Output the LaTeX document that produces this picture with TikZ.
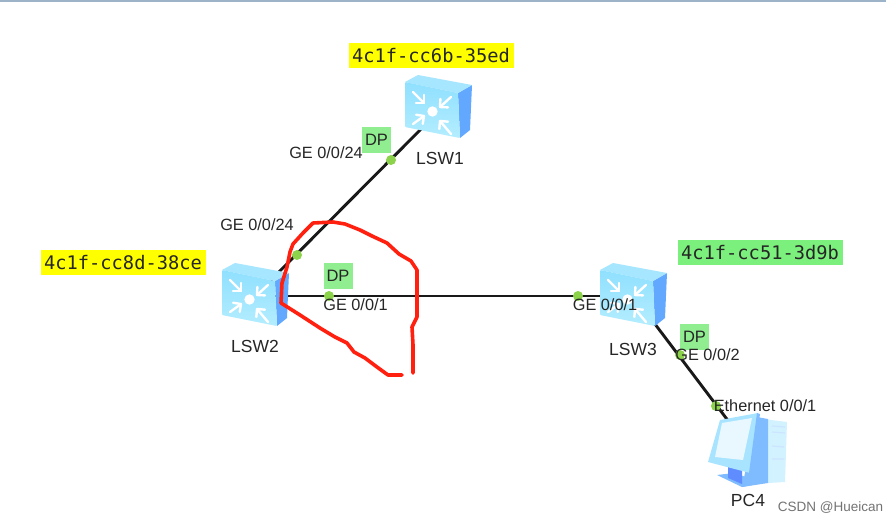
\documentclass[tikz,border=0pt]{standalone}
\usepackage{fontspec}
\setmainfont{Liberation Sans}
\newfontfamily\macfont{DejaVu Sans Mono}
\usetikzlibrary{calc}
\definecolor{swtop}{HTML}{A6E6FF}
\definecolor{swfront}{HTML}{8FE0FF}
\definecolor{swfrontb}{HTML}{B4EDFF}
\definecolor{swside}{HTML}{62A8FF}
\definecolor{dotg}{HTML}{8CD24A}
\definecolor{dpg}{HTML}{90EE90}
\definecolor{macg}{HTML}{7CF07C}
\definecolor{macy}{HTML}{FFFF00}
\definecolor{redink}{HTML}{FF2010}
\definecolor{pcl}{HTML}{A8E4FF}
\definecolor{pcm}{HTML}{7FBBFF}
\definecolor{pcs}{HTML}{D2F2FF}
\definecolor{topbar}{HTML}{9DB3C8}
\tikzset{
  x=1pt,y=-1pt,
  link/.style={draw=black!90,line width=2.9pt},
  port/.style={circle,fill=dotg,minimum size=10pt,inner sep=0pt},
  dpbox/.style={fill=dpg,minimum width=29pt,minimum height=26pt,inner sep=0pt,font=\fontsize{16.5}{16.5}\selectfont,text=black!85},
  mac/.style={minimum width=165pt,minimum height=25pt,inner sep=0pt,font=\macfont\fontsize{18.7}{18.7}\selectfont,text=black!85},
  lab/.style={inner sep=0pt,font=\fontsize{16.3}{16.3}\selectfont,text=black!85},
  devname/.style={inner sep=0pt,font=\fontsize{17.5}{17.5}\selectfont,text=black!85},
  dev/.style={inner sep=0pt,minimum size=1pt},
  arr/.style={draw=white,line width=2.4pt,line cap=round,line join=round},
  pics/switchicon/.style={code={
    \fill[swside] (53,11) -- (67,3) -- (65,48) -- (55,56) -- cycle;
    \fill[swtop] (0,0) -- (13,-7) -- (67,3) -- (53,11) -- cycle;
    \shade[top color=swfront,bottom color=swfrontb,rounded corners=1pt] (0,0) -- (53,11) -- (55,56) -- (0,45) -- cycle;
    \fill[white] (27.5,29.5) circle (5.2);
    \foreach \c/\d/\a/\b in {8/10/19/21,46/15/35/25,8/42/19/34,46/52/35/39}{
      \draw[arr] (\a,\b) -- (\c,\d);
      \draw[arr] (\a,\b) -- ($(\a,\b)!8pt!-45:(\c,\d)$);
      \draw[arr] (\a,\b) -- ($(\a,\b)!8pt!45:(\c,\d)$);
    }
  }},
  pics/pcicon/.style={code={
    \fill[pcs] (15,-28) -- (39,-25) -- (37,35) -- (20,36) -- cycle;
    \fill[pcm] (9,-30) -- (20,-28) -- (20,36) -- (-6,40) -- cycle;
    \draw[white!60!pcm,line width=1.2pt] (24,-21) -- (37,-20) (24,-15) -- (37,-14) (24,-1) -- (36,0) (24,12) -- (36,12);
    \fill[pcm] (-31,28) -- (-14,26) -- (-2,30) -- (20,35) -- (-6,40) -- cycle;
    \fill[pcm!75!blue] (-20,18) -- (-6,22) -- (-6,37) -- (-20,31) -- cycle;
    \fill[pcl] (-28,-27) -- (10,-34) -- (2,26) -- (-40,15) -- cycle;
    \fill[pcm] (9,-34) -- (12,-33) -- (4,27) -- (1,26) -- cycle;
    \fill[white!75!pcl] (-26,-24) -- (4,-29) -- (-5,13) -- (-33,10) -- cycle;
  }},
}
\begin{document}
\begin{tikzpicture}
\useasboundingbox (0,0) rectangle (886,523);
\fill[white] (0,0) rectangle (886,523);
\fill[topbar] (0,0) rectangle (886,2);

% device anchors
\node[dev] (LSW1) at (438,112) {};
\node[dev] (LSW2) at (255,296) {};
\node[dev] (LSW3) at (633,295) {};
\node[dev] (PC4) at (748,447) {};

% links
\draw[link] (LSW1) -- (LSW2);
\draw[link] (LSW2) -- (LSW3 |- LSW2);
\draw[link] (LSW3) -- (PC4);

% ports
\node[port] (p1) at (391,160) {};
\node[port] (p2) at (297,255) {};
\node[port] (p3) at (329,296) {};
\node[port] (p4) at (578,296) {};
\node[port] (p5) at (680,355) {};
\node[port] (p6) at (716,406) {};

% icons
\path (405,82) pic {switchicon};
\path (222,270) pic {switchicon};
\path (600,270) pic {switchicon};
\path (PC4) pic {pcicon};

% MAC labels
\node[mac,fill=macy] (m1) at (431,55.5) {4c1f-cc6b-35ed};
\node[mac,fill=macy] (m2) at (123,262.5) {4c1f-cc8d-38ce};
\node[mac,fill=macg] (m3) at (760,252.5) {4c1f-cc51-3d9b};

% DP
\node[dpbox] (d1) at (376.5,140) {DP};
\node[dpbox] (d2) at (338,276) {DP};
\node[dpbox] (d3) at (694.5,336.5) {DP};

% port labels
\node[lab] (l1) at (326,153) {GE 0/0/24};
\node[lab] (l2) at (257,225) {GE 0/0/24};
\node[lab] (l3) at (355.5,305) {GE 0/0/1};
\node[lab] (l4) at (605,305) {GE 0/0/1};
\node[lab] (l5) at (707.5,355) {GE 0/0/2};
\node[lab] (l6) at (765,406) {Ethernet 0/0/1};

% device names
\node[devname] (n1) at (440,158) {LSW1};
\node[devname] (n2) at (255,346) {LSW2};
\node[devname] (n3) at (633,349) {LSW3};
\node[devname] (n4) at (748,500) {PC4};

% watermark
\node[inner sep=0pt,font=\fontsize{13.5}{13.5}\selectfont,text=black!55] (wm) at (830.5,508) {CSDN @Hueican};

% red freehand
\draw[redink,line width=3.6pt,line join=round,line cap=round]
 (413,373) -- (413,345) -- (412,327) -- (417,317) -- (417,270) -- (411,261) -- (399,254) -- (387,243) -- (372,236) -- (360,230) -- (345,224) -- (333,222) -- (313,223) -- (303,233) -- (293,244) -- (290,252) -- (287,267) -- (282,283) -- (281,303) -- (300,315) -- (320,328) -- (335,337) -- (347,343) -- (354,352) -- (365,358) -- (377,367) -- (388,375) -- (402,375);
\end{tikzpicture}
\end{document}
